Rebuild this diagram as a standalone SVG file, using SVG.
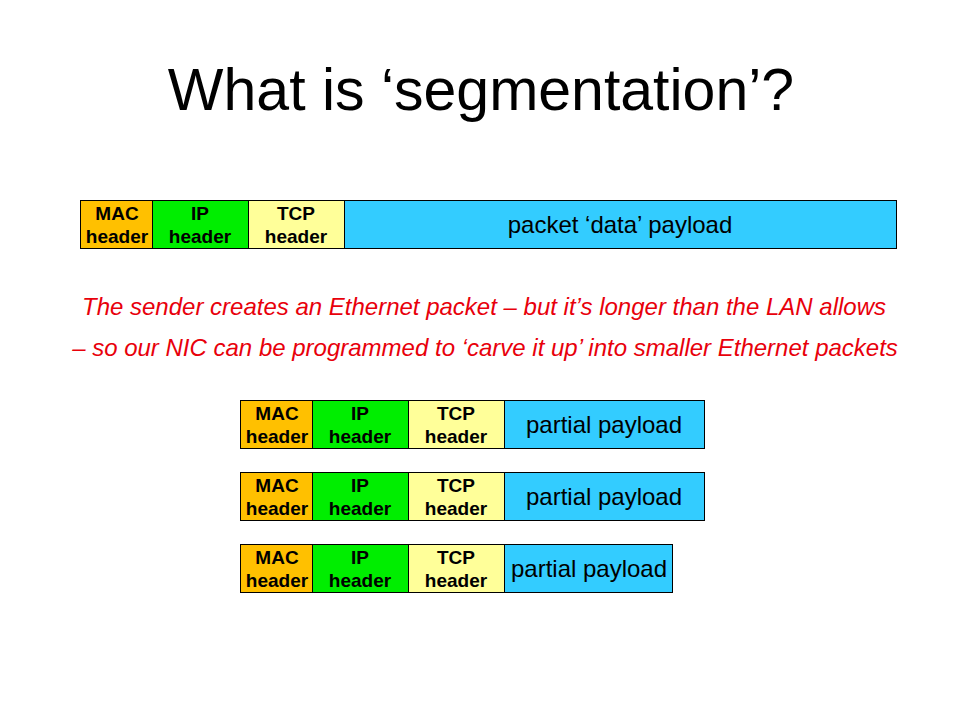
<svg xmlns="http://www.w3.org/2000/svg" width="960" height="720" viewBox="0 0 960 720">
<style>
.box{stroke:#000;stroke-width:1}
.mac{fill:#FFC000}
.ip{fill:#00EE00}
.tcp{fill:#FFFF99}
.pay{fill:#33CCFF}
.h{font-family:"Liberation Sans",Arial,sans-serif;font-weight:bold;font-size:19px;text-anchor:middle;fill:#000}
.p{font-family:"Liberation Sans",Arial,sans-serif;font-size:24px;text-anchor:middle;fill:#000}
.r{font-family:"Liberation Sans",Arial,sans-serif;font-style:italic;font-size:24px;text-anchor:middle;fill:#E8000B}
</style>
<rect width="960" height="720" fill="#fff"/>
<text x="481" y="110" font-family="Liberation Sans,Arial,sans-serif" font-size="59" text-anchor="middle">What is ‘segmentation’?</text>

<g id="packet">
<rect class="box mac" x="80.5" y="200.5" width="72" height="48"/>
<rect class="box ip" x="152.5" y="200.5" width="96" height="48"/>
<rect class="box tcp" x="248.5" y="200.5" width="96" height="48"/>
<rect class="box pay" x="344.5" y="200.5" width="552" height="48"/>
<text class="h" x="117" y="220">MAC</text><text class="h" x="117" y="243">header</text>
<text class="h" x="200" y="220">IP</text><text class="h" x="200" y="243">header</text>
<text class="h" x="296" y="220">TCP</text><text class="h" x="296" y="243">header</text>
<text class="p" x="620" y="233">packet ‘data’ payload</text>
</g>

<g id="caption">
<text class="r" x="484" y="315">The sender creates an Ethernet packet – but it’s longer than the LAN allows</text>
<text class="r" x="485" y="356">– so our NIC can be programmed to ‘carve it up’ into smaller Ethernet packets</text>
</g>

<g id="seg1">
<rect class="box mac" x="240.5" y="400.5" width="72" height="48"/>
<rect class="box ip" x="312.5" y="400.5" width="96" height="48"/>
<rect class="box tcp" x="408.5" y="400.5" width="96" height="48"/>
<rect class="box pay" x="504.5" y="400.5" width="200" height="48"/>
<text class="h" x="277" y="420">MAC</text><text class="h" x="277" y="443">header</text>
<text class="h" x="360" y="420">IP</text><text class="h" x="360" y="443">header</text>
<text class="h" x="456" y="420">TCP</text><text class="h" x="456" y="443">header</text>
<text class="p" x="604" y="433">partial payload</text>
</g>

<g id="seg2">
<rect class="box mac" x="240.5" y="472.5" width="72" height="48"/>
<rect class="box ip" x="312.5" y="472.5" width="96" height="48"/>
<rect class="box tcp" x="408.5" y="472.5" width="96" height="48"/>
<rect class="box pay" x="504.5" y="472.5" width="200" height="48"/>
<text class="h" x="277" y="492">MAC</text><text class="h" x="277" y="515">header</text>
<text class="h" x="360" y="492">IP</text><text class="h" x="360" y="515">header</text>
<text class="h" x="456" y="492">TCP</text><text class="h" x="456" y="515">header</text>
<text class="p" x="604" y="505">partial payload</text>
</g>

<g id="seg3">
<rect class="box mac" x="240.5" y="544.5" width="72" height="48"/>
<rect class="box ip" x="312.5" y="544.5" width="96" height="48"/>
<rect class="box tcp" x="408.5" y="544.5" width="96" height="48"/>
<rect class="box pay" x="504.5" y="544.5" width="168" height="48"/>
<text class="h" x="277" y="564">MAC</text><text class="h" x="277" y="587">header</text>
<text class="h" x="360" y="564">IP</text><text class="h" x="360" y="587">header</text>
<text class="h" x="456" y="564">TCP</text><text class="h" x="456" y="587">header</text>
<text class="p" x="589" y="577">partial payload</text>
</g>
<g id="connectors"/>
</svg>
